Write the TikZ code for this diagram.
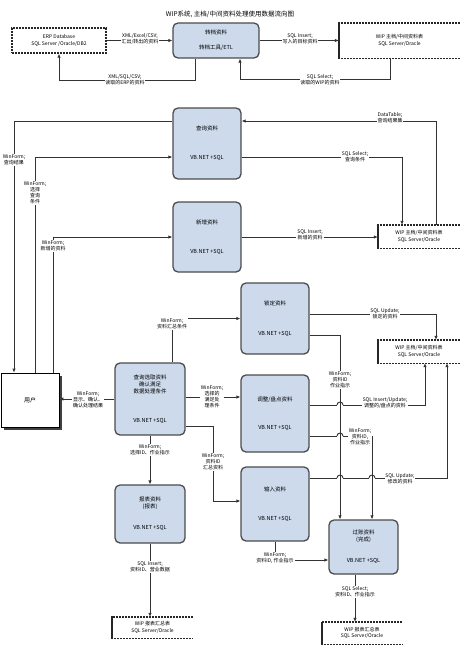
\documentclass[tikz,border=0pt]{standalone}
\usepackage{fontspec}
\setmainfont{Noto Sans CJK SC}
\usetikzlibrary{arrows.meta,shadows}

% small bridge where a horizontal flow jumps over a vertical one
\newcommand{\linehop}[2]{%
  \draw[white, line width=2.2pt] (#1-3.2,#2) -- (#1+3.2,#2);
  \draw[black!80, line width=0.9pt] (#1,#2-3.5) -- (#1,#2+3.5);
  \draw[black!80, line width=0.9pt] (#1-3,#2) arc[start angle=180, end angle=0, radius=3pt];}

\begin{document}
\begin{tikzpicture}[x=1pt, y=-1pt,
    proc/.style={draw=black!70, line width=1.3pt, rounded corners=5pt,
      fill={rgb,255:red,204;green,218;blue,236}, align=center, inner sep=1pt,
      font=\fontsize{5.5}{7}\selectfont},
    store/.style={align=center, inner sep=1pt, font=\fontsize{5}{6.5}\selectfont},
    storeline/.style={draw=black!85, line width=1.4pt, dash pattern=on 2.2pt off 0.8pt},
    flow/.style={draw=black!80, line width=1pt, -{Latex[length=4pt,width=3.5pt]}},
    lbl/.style={fill=white, align=center, inner sep=0.8pt, font=\fontsize{5}{6}\selectfont}]
    \useasboundingbox (0,0) rectangle (459,645);

    % Title
    \node (title) at (230,14) {\fontsize{6.5}{8}\selectfont WIP系统, 主档/中间资料处理使用数据流向图};

    % Data stores
    \node[store, storeline, minimum width=94pt, minimum height=25pt] (erp) at (59,40.5) {ERP Database\\SQL Server /Oracle/DB2};
    \node[store, minimum width=121pt, minimum height=35pt] (wipA) at (399.5,40.5) {WIP 主档/中间资料表\\SQL Server/Oracle};
    \node[store, minimum width=82pt, minimum height=23pt] (wipB) at (419,236.5) {WIP 主档/中间资料表\\SQL Server/Oracle};
    \node[store, minimum width=82pt, minimum height=23pt] (wipC) at (419,351.5) {WIP 主档/中间资料表\\SQL Server/Oracle};
    \node[store, minimum width=81pt, minimum height=21pt] (sumA) at (152.5,627.5) {WIP 报表汇总表\\SQL Server/Oracle};
    \node[store, minimum width=80pt, minimum height=22pt] (sumB) at (362,633) {WIP 报表汇总表\\SQL Server/Oracle};
    \foreach \s in {wipA,wipB,wipC,sumA,sumB}
        \draw[storeline] (\s.north east) -- (\s.north west) -- (\s.south west) -- (\s.south east);

    % User
    \node[draw=black, line width=0.8pt, fill=white, minimum width=58pt, minimum height=54pt,
      drop shadow={shadow xshift=2.5pt, shadow yshift=-2.5pt, fill=black!75, opacity=1},
      font=\fontsize{6}{7}\selectfont] (user) at (30,400) {用户};

    % Processes
    \node[proc, minimum width=86pt, minimum height=35pt] (conv) at (216,40.5) {转档资料\\[8pt]转档工具/ETL};
    \node[proc, minimum width=68pt, minimum height=71pt] (query) at (207,143.5) {查询资料\\[22pt]VB.NET +SQL};
    \node[proc, minimum width=68pt, minimum height=70pt] (add) at (207,237) {新增资料\\[22pt]VB.NET +SQL};
    \node[proc, minimum width=70pt, minimum height=72pt] (sel) at (150,399) {查询选取资料\\确认满足\\数据处理条件\\[22pt]VB.NET +SQL};
    \node[proc, minimum width=68pt, minimum height=71pt] (lock) at (275,318.5) {锁定资料\\[23pt]VB.NET +SQL};
    \node[proc, minimum width=68pt, minimum height=77pt] (adj) at (275,413.5) {调整/盘点资料\\[21pt]VB.NET +SQL};
    \node[proc, minimum width=70pt, minimum height=58pt] (rpt) at (150,514) {报表资料\\(报表)\\[14pt]VB.NET +SQL};
    \node[proc, minimum width=68pt, minimum height=74pt] (inp) at (275,504) {输入资料\\[22pt]VB.NET +SQL};
    \node[proc, minimum width=69pt, minimum height=54pt] (post) at (363.5,547) {过账资料\\(完成)\\[14pt]VB.NET +SQL};

    % Flows, top part
    \draw[flow] (erp) -- (conv);
    \draw[flow] (conv) -- (wipA);
    \draw[flow] ([xshift=-21pt]conv.south) -- ++(0,22) -| (erp.south);
    \draw[flow] ([xshift=-9.5pt]wipA.south) -- ++(0,21) -| ([xshift=24pt]conv.south);
    \node[lbl] (l-exp) at (140,39) {XML/Excel/CSV;\\汇出/转出的资料};
    \node[lbl] (l-ins) at (300,39) {SQL Insert;\\写入的目标资料};
    \node[lbl] (l-rerp) at (125,80) {XML/SQL/CSV;\\读取的ERP的资料};
    \node[lbl] (l-rwip) at (320,80) {SQL Select;\\读取的WIP的资料};

    % Flows, query and add
    \draw[flow] ([xshift=17pt]wipB.north) |- ([yshift=22.5pt]query.east);
    \draw[flow] ([yshift=22.5pt]query.west) -| ([xshift=-16pt]user.north);
    \draw[flow] ([xshift=5pt]user.north) |- ([yshift=-13.5pt]query.west);
    \draw[flow] ([yshift=-13.5pt]query.east) -| ([xshift=-17pt]wipB.north);
    \draw[flow] ([xshift=23pt]user.north) |- (add.west);
    \draw[flow] (add.east) -- (add.east -| wipB.west);
    \node[lbl] (l-res) at (390,118) {DataTable;\\查询结果集};
    \node[lbl] (l-qres) at (14,160) {WinForm;\\查询结果};
    \node[lbl] (l-qcon) at (35,193) {WinForm;\\选择\\查询\\条件};
    \node[lbl] (l-sel) at (355,157) {SQL Select;\\查询条件};
    \node[lbl] (l-new) at (53,246) {WinForm;\\新增的资料};
    \node[lbl] (l-snew) at (310,235) {SQL Insert;\\新增的资料};

    % Flows, processing part
    \draw[flow] (sel.west) -- (sel.west -| user.east);
    \draw[flow] ([xshift=22pt]sel.north) |- (lock.west);
    \draw[flow] ([yshift=4.5pt]lock.east) -| ([xshift=17pt]wipC.north);
    \draw[flow] ([yshift=-16.5pt]lock.east) -| ([xshift=-23.5pt]post.north);
    \draw[flow] ([yshift=2pt]sel.east) -- ([yshift=2pt]sel.east -| adj.west);
    \draw[flow] ([yshift=8.5pt]adj.east) -| ([xshift=6pt]wipC.south);
    \draw[flow] ([yshift=-22.5pt]adj.east) -| ([xshift=8.5pt]post.north);
    \draw[flow] (sel) -- (rpt);
    \draw[flow] ([yshift=-27pt]sel.east) -- ++(28,0) |- ([yshift=3pt]inp.west);
    \draw[flow] ([yshift=26pt]inp.east) -| ([xshift=28pt]wipC.south);
    \draw[flow] (rpt.south) -- (rpt.south |- sumA.north);
    \draw[flow] (inp.south) |- ([yshift=-13pt]post.west);
    \draw[flow] ([xshift=-8.5pt]post.south) -- ([xshift=-8.5pt]post.south |- sumB.north);

    % Jumps
    \linehop{340}{405}
    \linehop{340}{436}
    \linehop{340}{478}
    \linehop{372}{478}

    \node[lbl] (l-show) at (88,400) {WinForm;\\显示、确认、\\确认处理结果};
    \node[lbl] (l-sum) at (172,324) {WinForm;\\资料汇总条件};
    \node[lbl] (l-lock) at (385,314) {SQL Update;\\锁定的资料};
    \node[lbl] (l-id1) at (340,380) {WinForm;\\资料ID\\作业指示};
    \node[lbl] (l-cond) at (212,397) {WinForm;\\选择的\\满足处\\理条件};
    \node[lbl] (l-adj) at (385,403) {SQL Insert/Update;\\调整的/盘点的资料};
    \node[lbl] (l-id2) at (360,437) {WinForm;\\资料ID,\\作业指示};
    \node[lbl] (l-rsel) at (150,450) {WinForm;\\选择ID、作业指示};
    \node[lbl] (l-id3) at (213,462) {WinForm;\\资料ID\\汇总资料};
    \node[lbl] (l-mod) at (400,479) {SQL Update;\\修改的资料};
    \node[lbl] (l-rins) at (150,567) {SQL Insert;\\资料ID、营业数据};
    \node[lbl] (l-id4) at (275,558) {WinForm;\\资料ID, 作业指示};
    \node[lbl] (l-psel) at (355,592) {SQL Select;\\资料ID、作业指示};
\end{tikzpicture}
\end{document}
